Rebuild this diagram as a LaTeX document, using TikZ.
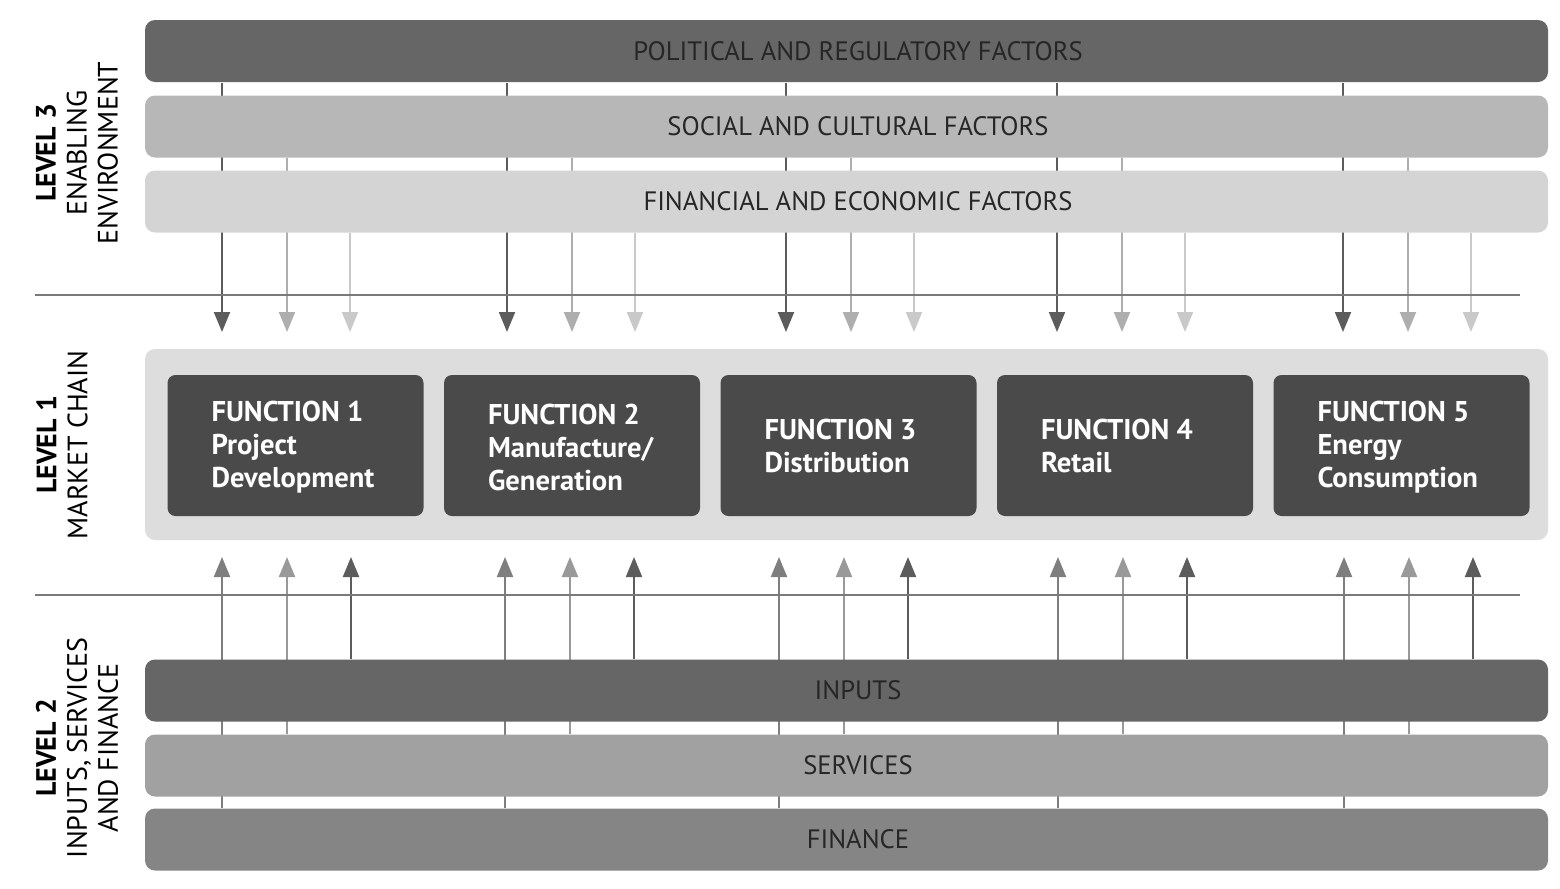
\documentclass[tikz,border=0pt]{standalone}
\usepackage{fontspec}
\setmainfont{PT Sans}
\usetikzlibrary{arrows.meta}
\usetikzlibrary{backgrounds}

\definecolor{polgray}{HTML}{666666}
\definecolor{socgray}{HTML}{B7B7B7}
\definecolor{fingray}{HTML}{D4D4D4}
\definecolor{chaingray}{HTML}{DDDDDD}
\definecolor{fungray}{HTML}{4A4A4A}
\definecolor{inpgray}{HTML}{666666}
\definecolor{srvgray}{HTML}{A1A1A1}
\definecolor{fnagray}{HTML}{858585}
\definecolor{textgray}{HTML}{262626}
\definecolor{rulegray}{HTML}{7A7A7A}

\begin{document}
\begin{tikzpicture}[x=0.5pt,y=-0.5pt,thick]
				\tikzset{
					bar/.style={rounded corners=5pt, minimum width=701.5pt, minimum height=31pt, inner sep=0pt},
					bartext/.style={text=textgray, font=\fontsize{13.3}{15}\selectfont},
					funbox/.style={fill=fungray, rounded corners=4pt, minimum width=128pt, minimum height=70.5pt, inner sep=0pt},
					funtext/.style={anchor=west, align=left, text=white, inner sep=0pt, font=\bfseries\fontsize{14.3}{16.5}\selectfont},
					level/.style={rotate=90, align=center, text=black, font=\fontsize{14}{15.5}\selectfont},
					arr/.style={line width=1pt, -{Triangle[width=8pt,length=10pt]}},
				}
				\useasboundingbox (0,0) rectangle (1560,889);
				\def\txs{5.75pt}     %text offset of the bar labels.
				
				% LEVEL 3 bars
				\node[bar, fill=polgray] (pol) at (846.5,51) {};
				\node[bar, fill=socgray] (soc) at (846.5,126.5) {};
				\node[bar, fill=fingray] (fin) at (846.5,201.5) {};
				\node[bartext] at ([xshift=\txs]pol.center) {POLITICAL AND REGULATORY FACTORS};
				\node[bartext] at ([xshift=\txs]soc.center) {SOCIAL AND CULTURAL FACTORS};
				\node[bartext] at ([xshift=\txs]fin.center) {FINANCIAL AND ECONOMIC FACTORS};
				
				% LEVEL 1 market chain
				\node[bar, fill=chaingray, minimum height=95.5pt] (chain) at (846.5,444.5) {};
				\node[funbox] (f1) at (295.5,445.5) {};
				\node[funbox] (f2) at (572,445.5) {};
				\node[funbox] (f3) at (848.5,445.5) {};
				\node[funbox] (f4) at (1125,445.5) {};
				\node[funbox] (f5) at (1401.5,445.5) {};
				\node[funtext] at ([xshift=22pt,yshift=-1pt]f1.west) {FUNCTION 1\\Project\\Development};
				\node[funtext] at ([xshift=22pt,yshift=-1pt]f2.west) {FUNCTION 2\\Manufacture/\\Generation};
				\node[funtext] at ([xshift=22pt]f3.west) {FUNCTION 3\\Distribution};
				\node[funtext] at ([xshift=22pt]f4.west) {FUNCTION 4\\Retail};
				\node[funtext] at ([xshift=22pt,yshift=-1pt]f5.west) {FUNCTION 5\\Energy\\Consumption};
				
				% LEVEL 2 bars
				\node[bar, fill=inpgray] (inp) at (846.5,690.5) {};
				\node[bar, fill=srvgray] (srv) at (846.5,765.5) {};
				\node[bar, fill=fnagray] (fna) at (846.5,839.5) {};
				\node[bartext] at ([xshift=\txs]inp.center) {INPUTS};
				\node[bartext] at ([xshift=\txs]srv.center) {SERVICES};
				\node[bartext] at ([xshift=\txs]fna.center) {FINANCE};
				
				% Level labels and separating rules.
				\node[level] (l3) at (77,153) {\textbf{LEVEL 3}\\ENABLING\\ENVIRONMENT};
				\node[level] (l1) at (62,445) {\textbf{LEVEL 1}\\MARKET CHAIN};
				\node[level] (l2) at (77,748) {\textbf{LEVEL 2}\\INPUTS, SERVICES\\AND FINANCE};
				\coordinate (r3a) at (35,295);
				\coordinate (r3b) at (1520,295);
				\coordinate (r2a) at (35,595);
				\coordinate (r2b) at (1520,595);
				\draw[rulegray, line width=0.75pt] (r3a) -- (r3b);
				\draw[rulegray, line width=0.75pt] (r2a) -- (r2b);
				
				% Arrows behind the bars.
				\begin{scope}[on background layer]
				\foreach \x in {222,507,786,1057,1343}{
					\coordinate (ta) at (\x,332);
					\coordinate (tb) at (\x+65,332);
					\coordinate (tc) at (\x+128,332);
					\draw[arr, color=polgray!90!black] (pol.south -| ta) -- (ta);
					\draw[arr, color=socgray!95!black] (soc.south -| tb) -- (tb);
					\draw[arr, color=fingray!95!black] (fin.south -| tc) -- (tc);
				}
				\foreach \x in {222,505,779,1058,1344}{
					\coordinate (ba) at (\x,557);
					\coordinate (bb) at (\x+65,557);
					\coordinate (bc) at (\x+129,557);
					\draw[arr, color=fnagray!95!black] (fna.north -| ba) -- (ba);
					\draw[arr, color=srvgray!95!black] (srv.north -| bb) -- (bb);
					\draw[arr, color=inpgray!90!black] (inp.north -| bc) -- (bc);
				}
				\end{scope}
				
\end{tikzpicture}
\end{document}
